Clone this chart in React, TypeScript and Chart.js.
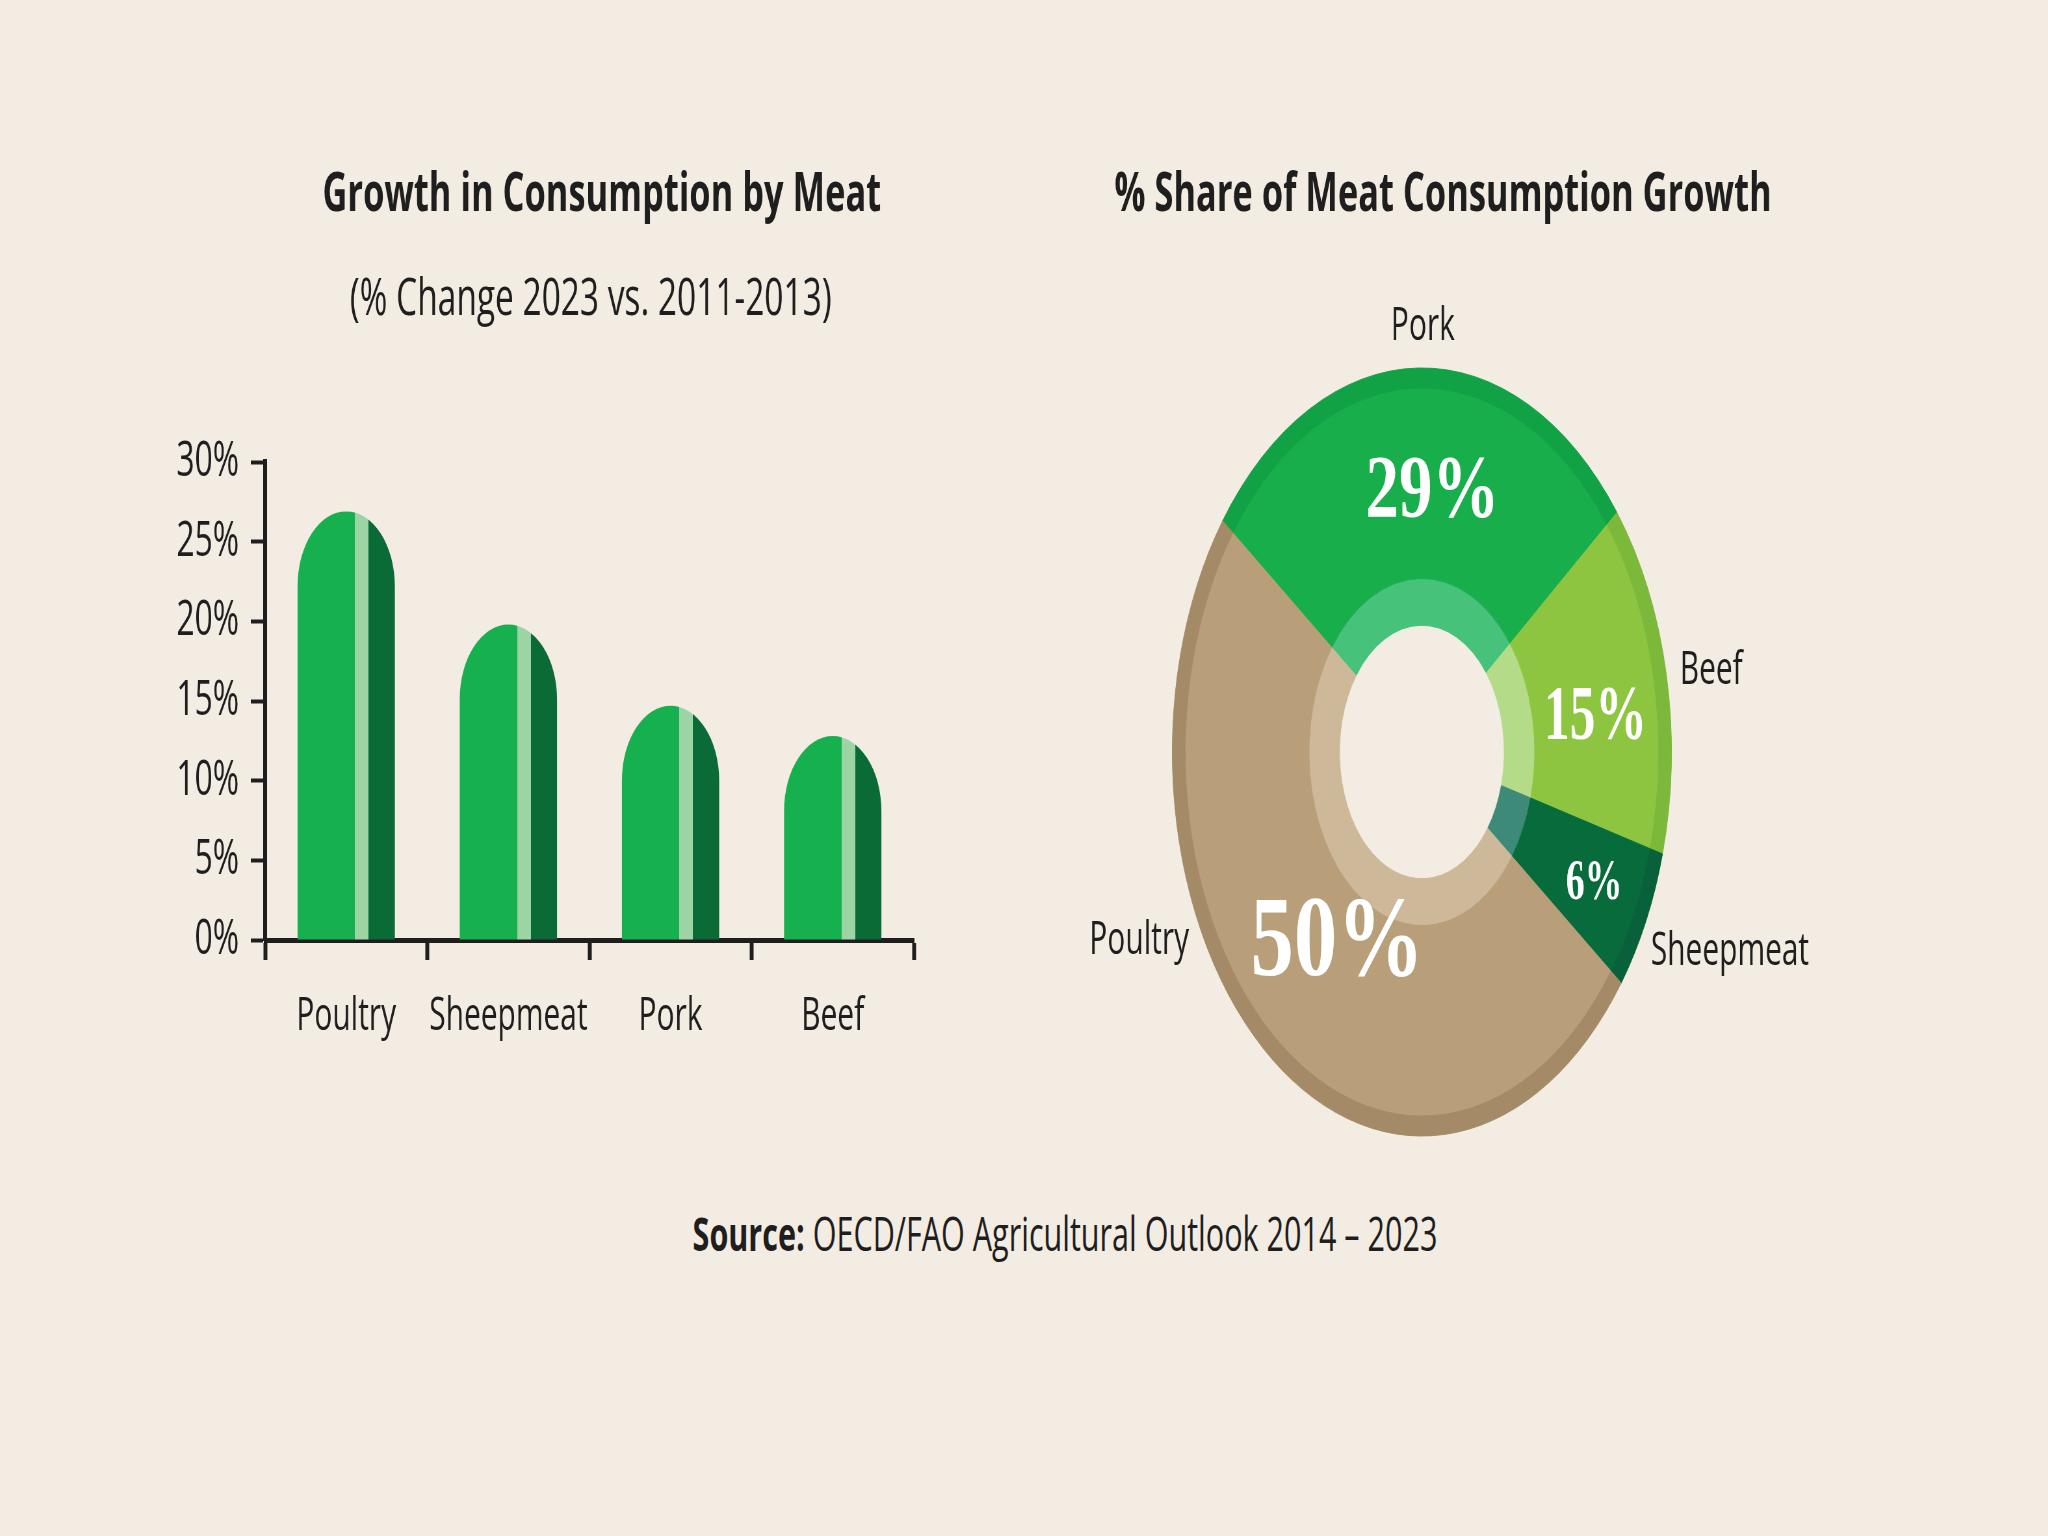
import React, { useEffect, useRef } from 'react';
import { Chart, registerables } from 'chart.js';

Chart.register(...registerables);

// ---------- data ----------
const categories = ['Poultry', 'Sheepmeat', 'Pork', 'Beef'];
const growthPct = [26.9, 19.8, 14.7, 12.8];
const yMin = 0;
const yMax = 30;
const yStep = 5;

const shareLabels = ['Pork', 'Beef', 'Sheepmeat', 'Poultry'];
const shareValues = [29, 15, 6, 50];

const barTitle = 'Growth in Consumption by Meat';
const barSubtitle = '(% Change 2023 vs. 2011-2013)';
const donutTitle = '% Share of Meat Consumption Growth';
const sourceBold = 'Source:';
const sourceRest = ' OECD/FAO Agricultural Outlook 2014 \u2013 2023';

// ---------- styles ----------
const SQUEEZE = 0.65; // horizontal compression of the whole figure
const BG = '#f3ece2';
const INK = '#1e1e1e';
const SANS = "'Open Sans', 'Noto Sans', sans-serif";
const SERIF = "'Liberation Serif', 'DejaVu Serif', serif";
const BAR_MAIN = '#16b04e';
const BAR_STRIPE = '#9dd4a4';
const BAR_DARK = '#0a6b37';
const ringOuterColors = ['#10a244', '#7cb93a', '#08613a', '#a48a66'];
const ringMainColors = ['#17ae4b', '#8dc540', '#076b3b', '#b89e79'];
const ringInnerColors = ['#46c27b', '#b3db88', '#3e8a78', '#cdb99a'];
const valueFontSize = [88, 79, 58, 114];
const valueScaleX = [1.17, 1.0, 1.0, 1.17];
const valueRadiusPx = [259, 269, 296, 233];
const valueAngleShiftDeg = [4.4, 4.5, 0.3, -3.0];
const labelAngleShiftDeg = [1, 0, 3.4, 25.2];

const BAR_W = 1400;
const BAR_H = 1000;
const DONUT_W = 1200;
const DONUT_H = 1100;

const headerPlugin = {
  id: 'headers',
  afterDraw(chart: any, _args: any, opts: any) {
    const ctx = chart.ctx;
    ctx.save();
    ctx.textAlign = 'center';
    ctx.textBaseline = 'middle';
    (opts.items || []).forEach((it: any) => {
      ctx.font = it.font;
      ctx.fillStyle = it.color;
      ctx.fillText(it.text, it.x, it.y);
    });
    ctx.restore();
  },
};

function barFill(ctx: any) {
  const chart = ctx.chart;
  const xs = chart.scales && chart.scales.x;
  if (!xs || ctx.type !== 'data' || !isFinite(xs.width)) return BAR_MAIN;
  const center = xs.getPixelForValue(ctx.dataIndex);
  const w = (xs.width / categories.length) * 0.6;
  const g = chart.ctx.createLinearGradient(center - w / 2, 0, center + w / 2, 0);
  g.addColorStop(0, BAR_MAIN);
  g.addColorStop(0.59, BAR_MAIN);
  g.addColorStop(0.59, BAR_STRIPE);
  g.addColorStop(0.73, BAR_STRIPE);
  g.addColorStop(0.73, BAR_DARK);
  g.addColorStop(1, BAR_DARK);
  return g;
}

function BarPanel() {
  const ref = useRef<HTMLCanvasElement>(null);
  useEffect(() => {
    const canvas = ref.current!;
    const chart = new Chart(canvas, {
      type: 'bar',
      data: {
        labels: categories,
        datasets: [
          {
            data: growthPct,
            backgroundColor: barFill as any,
            borderWidth: 0,
            borderRadius: { topLeft: 80, topRight: 80, bottomLeft: 0, bottomRight: 0 },
            borderSkipped: 'start',
            categoryPercentage: 0.6,
            barPercentage: 1,
          },
        ],
      },
      options: {
        responsive: false,
        animation: false,
        devicePixelRatio: 1,
        layout: { padding: { left: 0, right: 148, top: 362, bottom: 0 } },
        plugins: {
          legend: { display: false },
          tooltip: { enabled: false },
          headers: {
            items: [
              { text: barTitle, x: 772, y: 96, font: `bold 53px ${SANS}`, color: INK },
              { text: barSubtitle, x: 755, y: 200, font: `51.5px ${SANS}`, color: INK },
            ],
          },
        } as any,
        scales: {
          x: {
            afterFit: (s: any) => {
              s.height = 160;
            },
            grid: {
              display: true,
              drawOnChartArea: false,
              drawTicks: true,
              tickLength: 20,
              tickWidth: 6,
              tickColor: INK,
              offset: true,
            },
            border: { display: true, color: INK, width: 5 },
            ticks: {
              color: INK,
              font: { family: SANS, size: 46 },
              padding: 29,
              autoSkip: false,
              maxRotation: 0,
              minRotation: 0,
            },
          },
          y: {
            min: yMin,
            max: yMax,
            afterFit: (s: any) => {
              s.width = 254;
            },
            grid: { drawOnChartArea: false, tickLength: 22, tickWidth: 4, tickColor: INK },
            border: { display: true, color: INK, width: 6 },
            ticks: {
              stepSize: yStep,
              callback: (v: any) => `${v}%`,
              color: INK,
              font: { family: SANS, size: 49 },
              padding: 18,
            },
          },
        },
      },
      plugins: [headerPlugin],
    });
    return () => chart.destroy();
  }, []);
  return (
    <canvas
      ref={ref}
      width={BAR_W}
      height={BAR_H}
      style={{ position: 'absolute', left: 100, top: 100, width: BAR_W * SQUEEZE, height: BAR_H }}
    />
  );
}

const donutLabelsPlugin = {
  id: 'donutLabels',
  afterDatasetsDraw(chart: any) {
    const ctx = chart.ctx;
    const metaOuter = chart.getDatasetMeta(0);
    const metaMain = chart.getDatasetMeta(1);
    ctx.save();
    metaMain.data.forEach((arc: any, i: number) => {
      const { x, y, startAngle, endAngle } = arc.getProps(['x', 'y', 'startAngle', 'endAngle'], true);
      const mid = (startAngle + endAngle) / 2;
      // value text inside the ring
      const va = mid + (valueAngleShiftDeg[i] * Math.PI) / 180;
      ctx.save();
      ctx.translate(x + Math.cos(va) * valueRadiusPx[i], y + Math.sin(va) * valueRadiusPx[i]);
      ctx.scale(valueScaleX[i], 1);
      ctx.fillStyle = '#ffffff';
      ctx.font = `bold ${valueFontSize[i]}px ${SERIF}`;
      ctx.textAlign = 'center';
      ctx.textBaseline = 'middle';
      ctx.fillText(`${shareValues[i]}%`, 0, 0);
      ctx.restore();

      // category label outside
      const outerR = metaOuter.data[i].outerRadius;
      const a = mid + (labelAngleShiftDeg[i] * Math.PI) / 180;
      const dx = Math.cos(a);
      const dy = Math.sin(a);
      ctx.fillStyle = INK;
      ctx.font = `46px ${SANS}`;
      ctx.textBaseline = 'middle';
      let r = outerR + 21;
      if (Math.abs(dx) < 0.25) {
        ctx.textAlign = 'center';
        r = outerR + 41;
      } else {
        ctx.textAlign = dx > 0 ? 'left' : 'right';
      }
      ctx.fillText(shareLabels[i], x + dx * r, y + dy * r);
    });
    ctx.restore();
  },
};

function DonutPanel() {
  const ref = useRef<HTMLCanvasElement>(null);
  useEffect(() => {
    const canvas = ref.current!;
    const mk = (colors: string[], weight: number) => ({
      data: shareValues,
      backgroundColor: colors,
      borderColor: colors,
      borderWidth: 1,
      weight,
    });
    const chart = new Chart(canvas, {
      type: 'doughnut',
      data: {
        labels: shareLabels,
        datasets: [mk(ringOuterColors, 20), mk(ringMainColors, 191), mk(ringInnerColors, 47)] as any,
      },
      options: {
        responsive: false,
        animation: false,
        devicePixelRatio: 1,
        rotation: -53,
        radius: 384,
        cutout: '33%',
        layout: { padding: { top: 260, bottom: 56, left: 0, right: 65 } },
        plugins: {
          legend: { display: false },
          tooltip: { enabled: false },
          headers: {
            items: [{ text: donutTitle, x: DONUT_W / 2, y: 96, font: `bold 53px ${SANS}`, color: INK }],
          },
        },
      } as any,
      plugins: [donutLabelsPlugin, headerPlugin],
    });
    return () => chart.destroy();
  }, []);
  return (
    <canvas
      ref={ref}
      width={DONUT_W}
      height={DONUT_H}
      style={{ position: 'absolute', left: 1053, top: 100, width: DONUT_W * SQUEEZE, height: DONUT_H }}
    />
  );
}

export default function App() {
  return (
    <div
      style={{
        position: 'absolute',
        left: 0,
        top: 0,
        width: 2048,
        height: 1536,
        background: BG,
        overflow: 'hidden',
      }}
    >
      <BarPanel />
      <DonutPanel />
      <div
        style={{
          position: 'absolute',
          left: 1065,
          top: 1233,
          transform: `translate(-50%, -50%) scaleX(${SQUEEZE})`,
          whiteSpace: 'nowrap',
          fontFamily: SANS,
          fontSize: 47,
          color: INK,
          lineHeight: 1.2,
        }}
      >
        <b>{sourceBold}</b>
        {sourceRest}
      </div>
    </div>
  );
}
